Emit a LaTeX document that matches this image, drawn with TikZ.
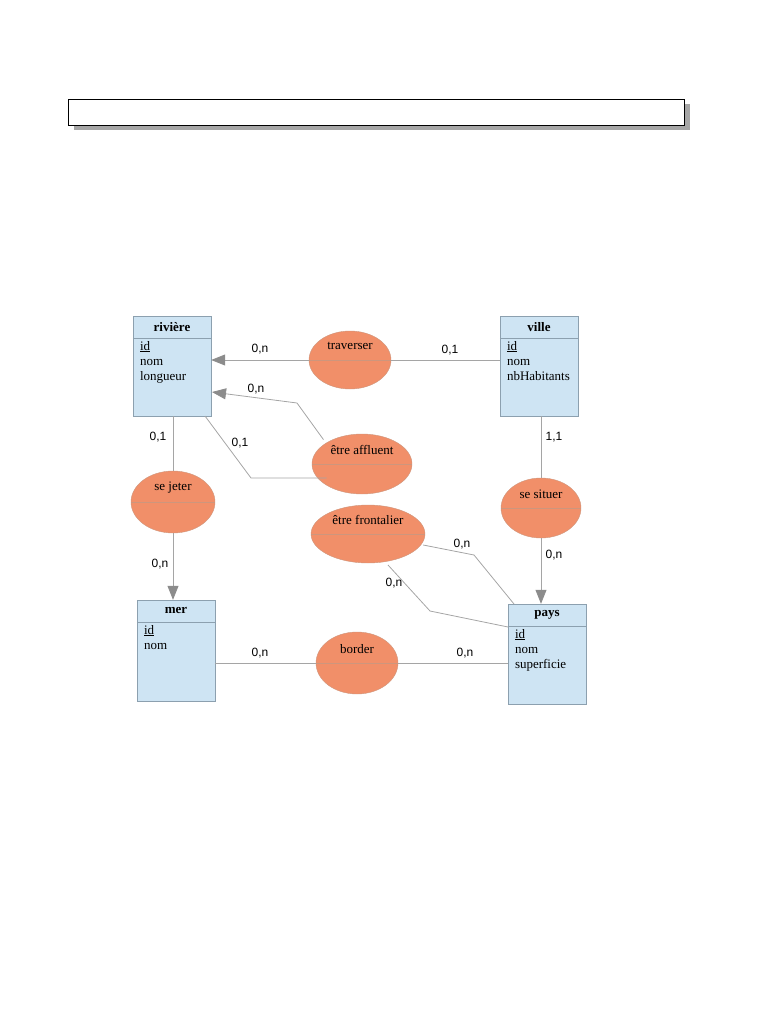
\documentclass[tikz,border=0pt]{standalone}
\usepackage{fontspec}
\setmainfont{Liberation Serif}
\newfontfamily\lblfont{Liberation Sans}
\usetikzlibrary{shapes.geometric,arrows.meta}
\definecolor{boxfill}{RGB}{206,228,243}
\definecolor{boxline}{RGB}{140,160,175}
\definecolor{ellfill}{RGB}{241,143,105}
\definecolor{ellline}{RGB}{205,150,125}
\definecolor{conn}{RGB}{165,165,165}
\tikzset{
 ent/.style={draw=boxline,fill=boxfill,minimum width=78pt,minimum height=100pt,inner sep=0pt},
 rel/.style={draw=ellline,fill=ellfill,ellipse,inner sep=0pt},
 con/.style={draw=conn,line width=0.8pt},
 arr/.style={con,-{Triangle[length=14pt,width=11pt,fill=gray!90,color=gray!90]}},
 card/.style={font=\lblfont\fontsize{12}{13}\selectfont},
 ttl/.style={font=\bfseries\fontsize{13}{14}\selectfont},
 att/.style={font=\fontsize{13}{15}\selectfont,anchor=north west,align=left,inner sep=0pt},
}
\begin{document}
\begin{tikzpicture}[x=1pt,y=-1pt]
\useasboundingbox (0,0) rectangle (768,1024);
\fill[gray!70] (74,104) rectangle (690,130);
\node[draw=black,fill=white,line width=0.8pt,minimum width=616pt,minimum height=26pt,inner sep=0pt] (title) at (376,112) {};
% entities
\newcommand\entity[6]{%
 \node[ent,minimum height=#4pt] (#1) at (#2,#3) {};
 \draw[boxline] (#1.north west) ++(0,22) -- ++(78,0);
 \node[ttl] (#1t) at ([yshift=-11pt]#1.north) {#5};
 \node[att] (#1a) at ([xshift=7pt,yshift=-25pt]#1.north west) {#6};}
\entity{riv}{172}{366}{100}{rivière}{\underline{id}\\nom\\longueur}
\entity{vil}{539}{366}{100}{ville}{\underline{id}\\nom\\nbHabitants}
\entity{mer}{176}{650.5}{101}{mer}{\underline{id}\\nom}
\entity{pay}{547}{654}{100}{pays}{\underline{id}\\nom\\superficie}
% relations
\newcommand\relation[6]{%
 \node[rel,minimum width=#4pt,minimum height=#5pt] (#1) at (#2,#3) {};
 \draw[ellline] (#1.west) -- (#1.east);
 \node[font=\fontsize{13}{14}\selectfont] (#1l) at ([yshift=14pt]#1.center) {#6};}
\relation{tra}{350}{360}{82}{58}{traverser}
\relation{aff}{362}{464}{100}{60}{être affluent}
\relation{jet}{173}{502}{84}{62}{se jeter}
\relation{sit}{541}{508}{80}{60}{se situer}
\relation{fro}{368}{534}{114}{58}{être frontalier}
\relation{bor}{357}{663}{82}{62}{border}
% connectors
\draw[arr] (tra.west) -- (riv.east |- tra.west);
\draw[con] (tra.east) -- (vil.west |- tra.east);
\coordinate (a1) at (297,403);
\draw[arr] (aff.north west) ++(-3,-3) -- (a1) -- (212,392);
\coordinate (a2) at (251,478);
\draw[con] (205,416) -- (a2) -- (aff.south west |- a2);
\draw[con] (jet.north |- riv.south) -- (jet.north);
\draw[arr] (jet.south) -- (jet.south |- mer.north);
\draw[con] (sit.north |- vil.south) -- (sit.north);
\draw[arr] (sit.south) -- (sit.south |- pay.north);
\coordinate (f1) at (474,555);
\draw[con] (fro.east) ++(-2,11) -- (f1) -- (514,604);
\coordinate (f2) at (430,611);
\draw[con] (388,565) -- (f2) -- (508,627);
\draw[con] (mer.east |- bor.west) -- (bor.west);
\draw[con] (bor.east) -- (pay.west |- bor.east);
% cardinalities
\node[card] (c1) at (260,349) {0,n};
\node[card] (c2) at (450,350) {0,1};
\node[card] (c3) at (256,389) {0,n};
\node[card] (c4) at (240,443) {0,1};
\node[card] (c5) at (158,437) {0,1};
\node[card] (c6) at (160,564) {0,n};
\node[card] (c7) at (554,437) {1,1};
\node[card] (c8) at (554,555) {0,n};
\node[card] (c9) at (462,544) {0,n};
\node[card] (c10) at (394,583) {0,n};
\node[card] (c11) at (260,653) {0,n};
\node[card] (c12) at (465,653) {0,n};
\end{tikzpicture}
\end{document}
